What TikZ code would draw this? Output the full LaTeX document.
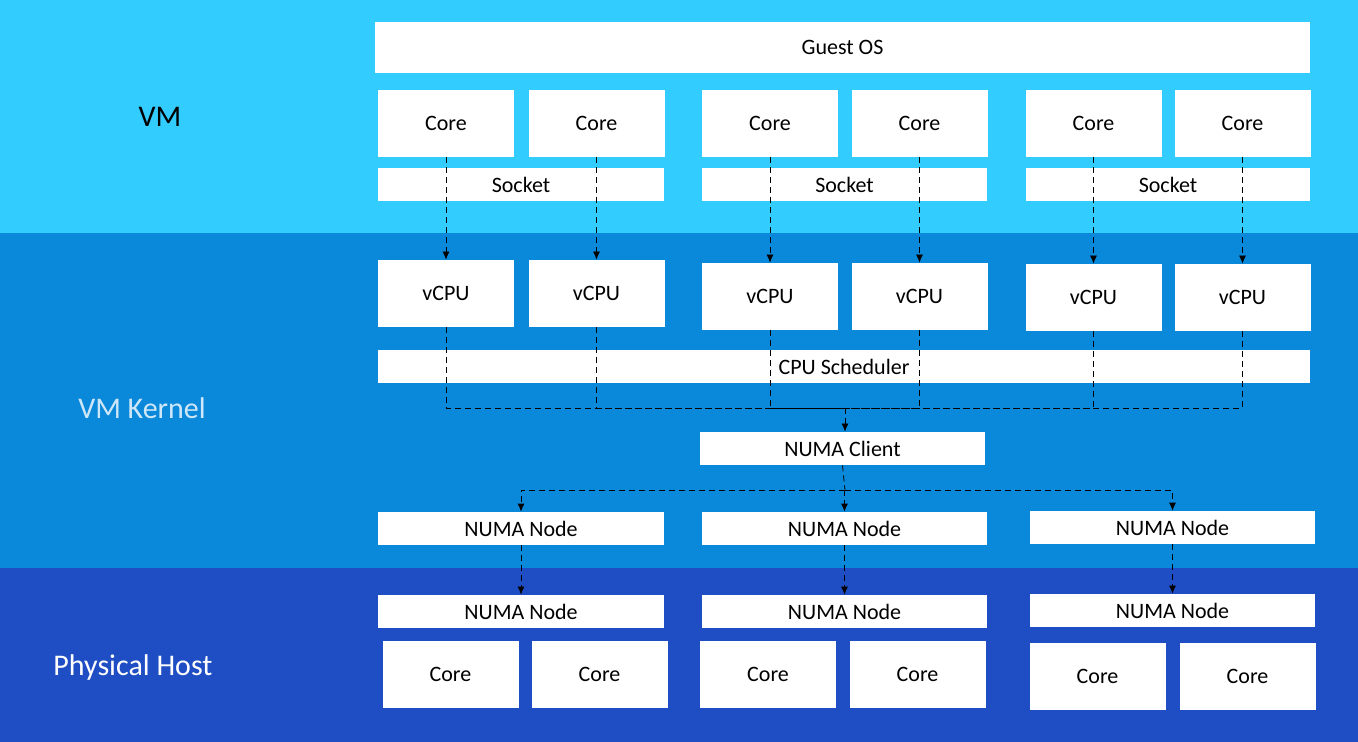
\documentclass[tikz,border=0pt]{standalone}
\usepackage{fontspec}
\setmainfont{Carlito}
\usetikzlibrary{arrows.meta, positioning}
\definecolor{vmblue}{HTML}{33CCFF}
\definecolor{kernblue}{HTML}{0A88DA}
\definecolor{hostblue}{HTML}{1F4EC4}
\begin{document}
\begin{tikzpicture}[x=0.5pt, y=-0.5pt,
    box/.style={draw=none, fill=white, inner sep=0pt, minimum height=33.5pt, minimum width=68pt, font=\fontsize{11}{13}\selectfont},
    bar/.style={box, minimum height=16.5pt},
    arr/.style={-{Latex[length=4pt,width=3.5pt]}, densely dashed, thin},
    lnk/.style={densely dashed, thin},
    band/.style={font=\fontsize{15}{18}\selectfont},
  ]
  % Bands
  \fill[vmblue] (0,0) rectangle (1358,233);
  \fill[kernblue] (0,233) rectangle (1358,568);
  \fill[hostblue] (0,568) rectangle (1358,742);
  \node[band, text=black] (vm) at (160,117) {VM};
  \node[band, text=white!80!kernblue] (kern) at (142,408) {VM Kernel};
  \node[band, text=white] (host) at (133,667) {Physical Host};

  % VM
  \node[box, minimum width=467.5pt, minimum height=25.5pt] (guest) at (842.5,47.5) {Guest OS};
  \node[box] (c1) at (446,123.5) {Core};
  \node[box] (c2) at (596.5,123.5) {Core};
  \node[box] (c3) at (770,123.5) {Core};
  \node[box] (c4) at (919.5,123.5) {Core};
  \node[box] (c5) at (1093.5,123.5) {Core};
  \node[box] (c6) at (1242.5,123.5) {Core};
  \node[bar, minimum width=143pt] (s1) at (521,184.5) {Socket};
  \node[bar, minimum width=142.5pt] (s2) at (844.5,184.5) {Socket};
  \node[bar, minimum width=142pt] (s3) at (1168,184.5) {Socket};

  % VM Kernel
  \node[box] (v1) at (446,293.5) {vCPU};
  \node[box] (v2) at (596.5,293.5) {vCPU};
  \node[box] (v3) at (770,296.5) {vCPU};
  \node[box] (v4) at (919.5,296.5) {vCPU};
  \node[box] (v5) at (1093.5,297.5) {vCPU};
  \node[box] (v6) at (1242.5,297.5) {vCPU};
  \node[bar, minimum width=466pt] (sched) at (844,366.5) {CPU Scheduler};
  \node[bar, minimum width=142.5pt] (client) at (842.5,448.5) {NUMA Client};
  \node[bar, minimum width=143pt] (k1) at (521,528.5) {NUMA Node};
  \node[bar, minimum width=142.5pt] (k2) at (844.5,528.5) {NUMA Node};
  \node[bar, minimum width=142.5pt] (k3) at (1172.5,527.5) {NUMA Node};

  % Physical Host
  \node[bar, minimum width=143pt] (p1) at (521,611.5) {NUMA Node};
  \node[bar, minimum width=142.5pt] (p2) at (844.5,611.5) {NUMA Node};
  \node[bar, minimum width=142.5pt] (p3) at (1172.5,610.5) {NUMA Node};
  \node[box] (h1) at (450.5,674.5) {Core};
  \node[box] (h2) at (599.5,674.5) {Core};
  \node[box] (h3) at (768,674.5) {Core};
  \node[box] (h4) at (917.5,674.5) {Core};
  \node[box] (h5) at (1097.5,676.5) {Core};
  \node[box] (h6) at (1247.5,676.5) {Core};

  % Paths
  \foreach \i in {1,...,6} {
    \draw[arr] (c\i.south) -- (v\i.north);
    \draw[lnk] (v\i.south) |- (845,408);
  }
  \coordinate (join) at (845,408);
  \draw[arr] (join) -- (join |- client.north);
  \coordinate (split) at (845,490);
  \draw[lnk] (client.south) -- (split);
  \draw[arr] (split) -| (k1.north);
  \draw[arr] (split) -- (split -| k2.north) -- (k2.north);
  \draw[arr] (split) -| (k3.north);
  \foreach \i in {1,2,3}
    \draw[arr] (k\i.south) -- (p\i.north);
\end{tikzpicture}
\end{document}
